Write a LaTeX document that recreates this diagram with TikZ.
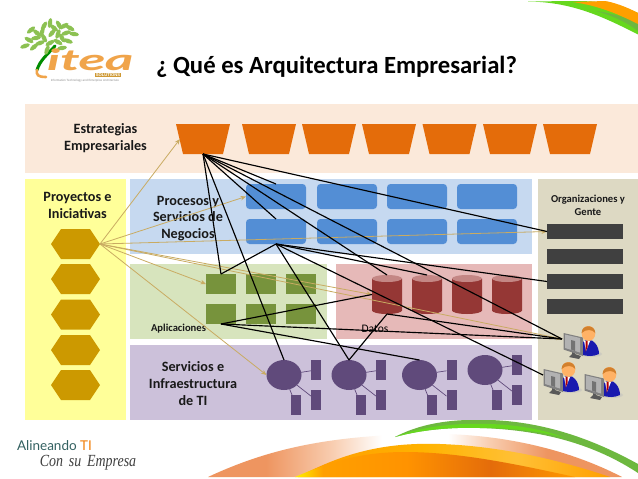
\documentclass[tikz,border=0pt]{standalone}
\usepackage{fontspec}
\setmainfont{Carlito}
\newfontfamily\logofont{Liberation Sans}
\newfontfamily\handfont{Liberation Serif}
\newfontfamily\alinfont{Lato}
\usetikzlibrary{arrows.meta,shapes.geometric}
\definecolor{bandPeach}{HTML}{FBE9DA}
\definecolor{bandYellow}{HTML}{FFFF99}
\definecolor{bandBlue}{HTML}{C6D9F0}
\definecolor{bandGreen}{HTML}{D7E4BD}
\definecolor{bandRed}{HTML}{E6B9B8}
\definecolor{bandPurple}{HTML}{CCC1DA}
\definecolor{bandTan}{HTML}{DDD9C3}
\definecolor{trapOrange}{HTML}{E46C0A}
\definecolor{hexGold}{HTML}{CC9900}
\definecolor{procBlue}{HTML}{538ED5}
\definecolor{appGreen}{HTML}{77933C}
\definecolor{dataRed}{HTML}{953735}
\definecolor{dataTop}{HTML}{C48785}
\definecolor{infraPurple}{HTML}{604A7B}
\definecolor{barDark}{HTML}{404040}
\definecolor{linkGold}{HTML}{C9AB62}
\definecolor{leafGreen}{HTML}{8CC152}
\definecolor{logoOrange}{HTML}{F0A44A}
\definecolor{swooshGreen}{HTML}{6DB83F}
\definecolor{swooshBright}{HTML}{66D81E}
\definecolor{swooshSalmon}{HTML}{EE9560}
\definecolor{swooshPale}{HTML}{F8CDB0}
\pgfdeclarehorizontalshading{swBase}{100bp}{color(0bp)=(white);color(25bp)=(swooshSalmon);
  color(32bp)=(swooshSalmon);color(40bp)=(swooshPale);color(46bp)=(white);color(54bp)=(white);
  color(59bp)=(swooshPale);color(66bp)=(swooshSalmon);color(72bp)=(swooshSalmon);color(75bp)=(swooshSalmon);color(100bp)=(swooshSalmon)}
\pgfdeclarehorizontalshading{swGold}{100bp}{color(0bp)=(orange!80!yellow);color(25bp)=(orange!80!yellow);
  color(45bp)=(orange!60!yellow);color(60bp)=(white!30!orange!70!yellow);color(75bp)=(orange!75!yellow);color(100bp)=(orange!75!yellow)}
\pgfdeclarehorizontalshading{swDeep}{100bp}{color(0bp)=(yellow);color(25bp)=(yellow!90!orange);
  color(30bp)=(orange!75!yellow);color(45bp)=(orange!85!yellow);color(60bp)=(trapOrange);color(75bp)=(orange!80!yellow);color(100bp)=(orange!80!yellow)}
\tikzset{
  anchorBox/.style={rectangle,draw=none,inner sep=0pt,outer sep=0pt},
  stratTrap/.style={anchorBox,minimum width=54pt,minimum height=30pt},
  projHex/.style={anchorBox,minimum width=49pt,minimum height=30pt},
  procBox/.style={anchorBox,rounded corners=3.5pt,fill=procBlue,minimum width=60pt,minimum height=25pt},
  appBox/.style={anchorBox,fill=appGreen,minimum width=30pt,minimum height=20pt},
  dataCyl/.style={anchorBox,minimum width=30pt,minimum height=39pt},
  infraCircle/.style={ellipse,fill=infraPurple,draw=none,inner sep=0pt,outer sep=0pt,minimum width=35pt,minimum height=30pt},
  infraRect/.style={anchorBox,fill=infraPurple,minimum width=10pt,minimum height=20pt},
  infraLink/.style={draw=infraPurple,line width=0.7pt},
  orgBar/.style={anchorBox,fill=barDark,minimum width=76pt,minimum height=15pt},
  goldLink/.style={draw=linkGold,line width=0.8pt,-{Stealth[length=5.5pt,width=4.5pt]}},
  blackLink/.style={draw=black,line width=1.15pt},
  lblBig/.style={font=\fontsize{14.2}{16.8}\selectfont\bfseries,align=center,inner sep=0pt,text=black!90},
  lblSmall/.style={font=\fontsize{10.6}{13}\selectfont\bfseries,align=center,inner sep=0pt,text=black!90},
  leaf/.style={fill=leafGreen,draw=none},
}
\newcommand{\officeuser}[2]{%
  \begin{scope}[shift={(#1,#2)}]
    \fill[black!25,opacity=0.5] (28,21) ellipse (11 and 3);
    \fill[black!65] (6,24) -- (16,26) -- (18,23) -- (12,21) -- (12,16) -- (9,15) -- (9,21) -- cycle;
    \fill[black!50] (0.5,0) -- (20,4.5) -- (20,23) -- (0.5,16.5) -- cycle;
    \fill[black!30] (2,1.5) -- (17,5) -- (17,19.5) -- (2,15) -- cycle;
    \fill[black!55] (8,7) -- (12,8) -- (12,18) -- (8,16.5) -- cycle;
    \fill[blue!65!black!90] (20,9) .. controls (23,6) and (29,6) .. (32,10) .. controls (35,13) and (36,18) .. (36,21)
      .. controls (30,24) and (24,23) .. (20,22) -- cycle;
    \fill[white] (21,8) -- (27,8) -- (23,18) -- cycle;
    \fill[red!70!black] (22.5,8) -- (24.5,8) -- (24.5,14) -- (22.5,19) -- cycle;
    \fill[orange!60!white] (25.5,0.5) ellipse (6.8 and 7.5);
    \fill[brown!70!orange] (18.6,0) .. controls (18.5,-9) and (32,-9) .. (32.3,0) .. controls (29,-4) and (23,-4) .. (18.6,0) -- cycle;
  \end{scope}}
\begin{document}
\begin{tikzpicture}[x=1pt,y=-1pt]
\useasboundingbox (0,0) rectangle (638,479);
\fill[white] (0,0) rectangle (638,479);
% corner swoosh, top right
\fill[swooshBright] (528,1.5) .. controls (570,2) and (600,15) .. (638,34.5) -- (638,13) .. controls (620,5) and (605,1) .. (575,1) -- cycle;
\fill[swooshGreen] (596,11) .. controls (610,15) and (625,21) .. (638,31) -- (638,22) .. controls (625,17) and (610,13) .. (596,11) -- cycle;
\fill[orange!75!yellow] (573,2) .. controls (600,6) and (620,15) .. (638,24) -- (638,13) .. controls (625,6) and (612,2) .. (605,1) -- cycle;
% corner swoosh, bottom
\shade[shading=swBase] (208,477) .. controls (270,448) and (330,436) .. (420,434) .. controls (500,432) and (570,450) .. (622,477) -- cycle;
\shade[shading=swGold] (298,477) .. controls (340,455) and (380,442) .. (440,444) .. controls (500,446) and (560,460) .. (610,477) -- cycle;
\shade[shading=swDeep] (295,477) .. controls (330,462) and (360,452) .. (405,452) .. controls (460,452) and (520,465) .. (575,477) -- cycle;
\fill[swooshGreen] (395,437) .. controls (425,421) and (460,419) .. (490,420) .. controls (550,422) and (600,443) .. (638,464)
  -- (638,473) .. controls (600,448) and (550,430) .. (480,428) .. controls (450,427) and (420,430) .. (395,437) -- cycle;
\fill[swooshBright] (395,437) .. controls (425,425) and (460,423) .. (490,424) .. controls (520,425) and (545,430) .. (565,438)
  .. controls (540,431) and (510,428) .. (480,428) .. controls (450,427) and (420,430) .. (395,437) -- cycle;
% logo
\draw[green!55!black,line width=3pt,line cap=round] (55,46) .. controls (48,54) and (40,60) .. (37,70);
\draw[logoOrange,line width=2.6pt,line cap=round] (37,70) .. controls (36,75) and (38,77) .. (46,77);
\foreach \lx/\ly/\la in {25/46/20,29/40/-30,34/47/40,37/33/-40,44/26/60,50/23/80,59/25/120,66/33/20,74/34/-10,68/41/-20,58/34/70,52/33/50,44/38/-60,50/43/30,58/42/-30,62/48/10,40/43/20,31/30/40,47/50/70,54/28/-40,64/26/30,42/32/70,62/38/-60,36/38/10,70/28/-30}
  \fill[leaf,rotate around={\la:(\lx,\ly)}] (\lx,\ly) ellipse (5 and 2.2);
\node[font=\bfseries\itshape\fontsize{31}{31}\selectfont,text=logoOrange,xscale=1.75,inner sep=0pt] (logoMark) at (90,59.5) {itea};
\node[font=\logofont\bfseries\fontsize{4.2}{4.4}\selectfont,text=white,fill=logoOrange!70!olive,inner sep=0.3pt] (logoSub) at (108,75) {SOLUTIONS};
\node[font=\logofont\fontsize{3}{3}\selectfont,text=black!45,inner sep=0pt] (logoTag) at (85,80.5) {Information Technology and Enterprise Architecture};
% title
\node[font=\bfseries\fontsize{24.7}{28}\selectfont,inner sep=0pt] (title) at (336.5,67) {¿ Qué es Arquitectura Empresarial?};
% bands
\fill[bandPeach] (25,104) rectangle (638,173);
\fill[bandYellow] (25,179) rectangle (126,420);
\fill[bandBlue] (130,179) rectangle (532,254);
\fill[bandGreen] (130,264) rectangle (327,339);
\fill[bandRed] (336,264) rectangle (532,339);
\fill[bandPurple] (130,345) rectangle (532,420);
\fill[bandTan] (538,179) rectangle (638,420);
% trapezoids
\foreach \n/\x in {1/203,2/269,3/329,4/389,5/449.5,6/510,7/570}{
  \fill[trapOrange] ({\x-27},124) -- ({\x+27},124) -- ({\x+20},154) -- ({\x-20},154) -- cycle;
  \node[stratTrap] (trap\n) at (\x,139) {};
}
% hexagons
\foreach \n/\y in {1/244,2/279,3/314.5,4/350,5/385}{
  \fill[hexGold] (51,\y) -- (61,{\y-15}) -- (90,{\y-15}) -- (100,\y) -- (90,{\y+15}) -- (61,{\y+15}) -- cycle;
  \node[projHex] (hex\n) at (75.5,\y) {};
}
% process boxes
\foreach \n/\x in {1/276,2/347,3/417,4/487}{
  \node[procBox] (procA\n) at (\x,196.5) {};
  \node[procBox] (procB\n) at (\x,231.5) {};
}
% application boxes
\foreach \n/\x in {1/221,2/261,3/301}{
  \node[appBox] (appA\n) at (\x,284) {};
  \node[appBox] (appB\n) at (\x,314) {};
}
% data cylinders
\foreach \n/\x in {1/387,2/427,3/467,4/507}{
  \fill[dataRed] ({\x-15},278.5) -- ({\x-15},310.5) arc[start angle=180,end angle=360,x radius=15,y radius=-3.5] -- ({\x+15},278.5) -- cycle;
  \fill[dataTop] (\x,278.5) ellipse (15 and 3.5);
  \node[dataCyl] (cyl\n) at (\x,294.5) {};
}
% infrastructure
\foreach \n/\x/\y in {1/284/375,2/349/375,3/419.5/375,4/485/370}{
  \node[infraRect] (rectA\n) at ({\x+32},{\y-5}) {};
  \node[infraRect] (rectB\n) at ({\x+32},{\y+25}) {};
  \node[infraRect] (rectC\n) at ({\x+12},{\y+30}) {};
  \node[infraCircle] (infra\n) at (\x,\y) {};
  \draw[infraLink] (infra\n) -- (rectA\n);
  \draw[infraLink] (infra\n) -- (rectB\n);
  \draw[infraLink] (infra\n) -- (rectC\n);
}
% organisation bars
\foreach \n/\y in {1/231.5,2/256.5,3/281.5,4/306.5}
  \node[orgBar] (org\n) at (585,\y) {};
% people
\officeuser{563}{333}
\officeuser{543}{369}
\officeuser{584}{374}
\coordinate (userA) at (562,339);
\coordinate (userB) at (543,375);
\coordinate (trapEntry) at (180,139);
% labels
\node[lblBig] (lblStrat) at (105.5,138.5) {Estrategias\\Empresariales};
\node[lblBig] (lblProj) at (77.5,205.5) {Proyectos e\\Iniciativas};
\node[lblBig] (lblProc) at (188,218.5) {Procesos y\\Servicios de\\Negocios};
\node[lblSmall] (lblApp) at (178.5,329) {Aplicaciones};
\node[font=\fontsize{11.5}{13}\selectfont,inner sep=0pt] (lblData) at (375,329) {Datos};
\node[lblBig] (lblInfra) at (193,383.5) {Servicios e\\Infraestructura\\de TI};
\node[lblSmall] (lblOrg) at (588,205.5) {Organizaciones y\\Gente};
\node[font=\alinfont\fontsize{13.5}{15}\selectfont,inner sep=0pt,text=black!55!teal!80] (lblAlin) at (54.5,446) {Alineando \textcolor{orange!80!brown}{TI}};
\node[font=\handfont\itshape\fontsize{17}{18}\selectfont,inner sep=0pt,text=black!75,xscale=0.82] (lblCon) at (88,463) {Con\, su\, Empresa};
% gold connectors
\draw[goldLink] (hex1.east) -- (trapEntry);
\draw[goldLink] (hex1.east) -- (procA1.west);
\draw[goldLink] (hex1.east) -- (org1.west);
\draw[goldLink] (hex1.east) -- (appA1.west);
\draw[goldLink] (hex1.east) -- (cyl1.west);
\draw[goldLink] (hex1.east) -- (userA);
\draw[goldLink] (hex1.east) -- (infra1.west);
% black connectors
\foreach \t in {procA1.north,procB1.north,appA1.north,infra1.north,cyl1.north,userA,org1.west}
  \draw[blackLink] (trap1.south) -- (\t);
\foreach \t in {appA1.north,cyl2.north,org3.west,infra2.north,userB}
  \draw[blackLink] (procB1.south) -- (\t);
\foreach \t in {cyl1.west,userA,infra3.north}
  \draw[blackLink] (appB1.south) -- (\t);
\foreach \t in {userA,infra2.north}
  \draw[blackLink] (cyl1.south) -- (\t);
\end{tikzpicture}
\end{document}
